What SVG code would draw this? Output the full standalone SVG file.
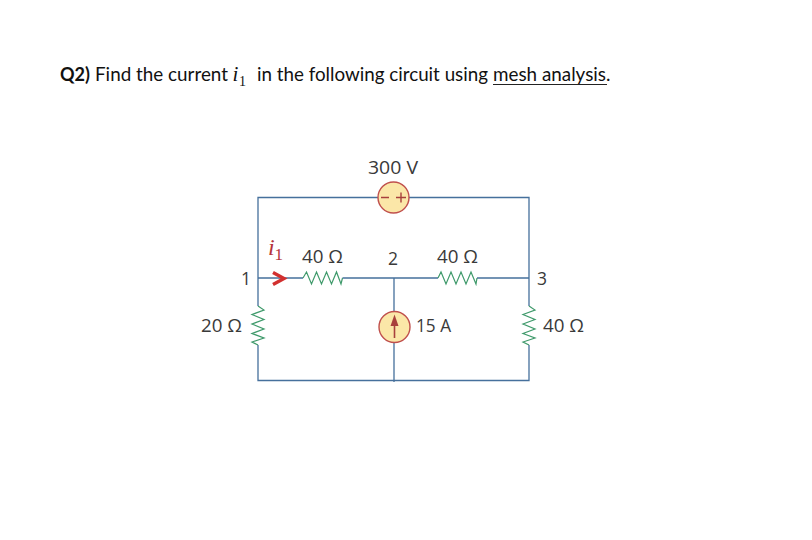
<svg xmlns="http://www.w3.org/2000/svg" width="812" height="540" viewBox="0 0 812 540">
<style>
.q{font-family:"Lato","Liberation Sans",sans-serif;font-size:19px;fill:#111}
.c{font-family:"Open Sans","Liberation Sans",sans-serif;font-size:17.5px;fill:#3a3a3a}
.w{fill:none;stroke:#46709c;stroke-width:1.3}
.r{fill:none;stroke:#3f9a6b;stroke-width:1.2}
.s{fill:#fbe7a8;stroke:#c0504d;stroke-width:1.4}
.m{fill:none;stroke:#a8403c;stroke-width:1.4}
</style>
<rect width="812" height="540" fill="#fff"/>
<g id="question">
<text class="q" x="60" y="81" font-weight="700" textLength="30" lengthAdjust="spacingAndGlyphs">Q2)</text>
<text class="q" x="95" y="81" textLength="133" lengthAdjust="spacingAndGlyphs">Find the current</text>
<text x="232.500" y="81" font-family="Liberation Serif,serif" font-style="italic" font-size="21" fill="#111">i</text>
<text x="239" y="85.500" font-family="Liberation Serif,serif" font-size="14" fill="#111">1</text>
<text class="q" x="257" y="81" textLength="231" lengthAdjust="spacingAndGlyphs">in the following circuit using</text>
<text class="q" x="493" y="81" textLength="113" lengthAdjust="spacingAndGlyphs">mesh analysis</text>
<text class="q" x="606" y="81">.</text>
<path d="M493 84.500H607" stroke="#222" stroke-width="1.200"/>
</g>
<g id="connectors">
<path class="w" d="M378 197.500H258V306M258 345V380.500H529V345M529 306V197.500H409"/>
<path class="w" d="M258 278H303M342.500 278H438M477 278H529"/>
<path class="w" d="M394 278V311.500M394 342.500V382"/>
</g>
<g id="r-40-left"><path class="r" d="M303 278L306.500 272L311.500 284L316.500 272L321.500 284L326.500 272L331.500 284L336.500 272L341 284L342.500 278"/></g>
<g id="r-40-right"><path class="r" d="M438 278L441 272L446 284L451 272L456 284L461 272L466 284L471 272L476 284L477 278"/></g>
<g id="r-20"><path class="r" d="M258 306L264 310L252 314.500L264 319.500L252 324L264 329L252 333.500L264 338L252 342L258 345"/></g>
<g id="r-40-bottom"><path class="r" d="M529 306L535 310L523 314.500L535 319.500L523 324L535 329L523 333.500L535 338L523 342L529 345"/></g>
<g id="voltage-source">
<circle class="s" cx="393.500" cy="197.500" r="15.500"/>
<path class="m" d="M381 197.500H389M396 197.500H406M401 192.500V202.500"/>
</g>
<g id="current-source">
<circle class="s" cx="394.500" cy="327" r="15.500"/>
<path d="M394.500 338V325" stroke="#a8403c" stroke-width="1.600" fill="none"/>
<path d="M394.500 314.500L398.500 326H390.500Z" fill="#a8403c"/>
</g>
<g id="current-arrow">
<path d="M273 272.500L284 278.500L273 284.500" fill="none" stroke="#d2302f" stroke-width="3.400"/>
</g>
<g id="labels">
<text class="c" x="368" y="174" textLength="50" lengthAdjust="spacingAndGlyphs">300 V</text>
<text x="268" y="255" font-family="Liberation Serif,serif" font-style="italic" font-size="24" fill="#b5343a">i</text>
<text x="274.500" y="260" font-family="Liberation Serif,serif" font-size="17" fill="#b5343a">1</text>
<text class="c" x="302" y="262.500" textLength="41" lengthAdjust="spacingAndGlyphs">40 Ω</text>
<text class="c" x="393" y="265" text-anchor="middle">2</text>
<text class="c" x="437" y="262.500" textLength="41" lengthAdjust="spacingAndGlyphs">40 Ω</text>
<text class="c" x="246" y="284.500" text-anchor="middle">1</text>
<text class="c" x="542" y="285" text-anchor="middle">3</text>
<text class="c" x="201" y="332" textLength="41" lengthAdjust="spacingAndGlyphs">20 Ω</text>
<text class="c" x="416" y="332" textLength="35" lengthAdjust="spacingAndGlyphs">15 A</text>
<text class="c" x="543" y="332" textLength="41" lengthAdjust="spacingAndGlyphs">40 Ω</text>
</g>
</svg>
